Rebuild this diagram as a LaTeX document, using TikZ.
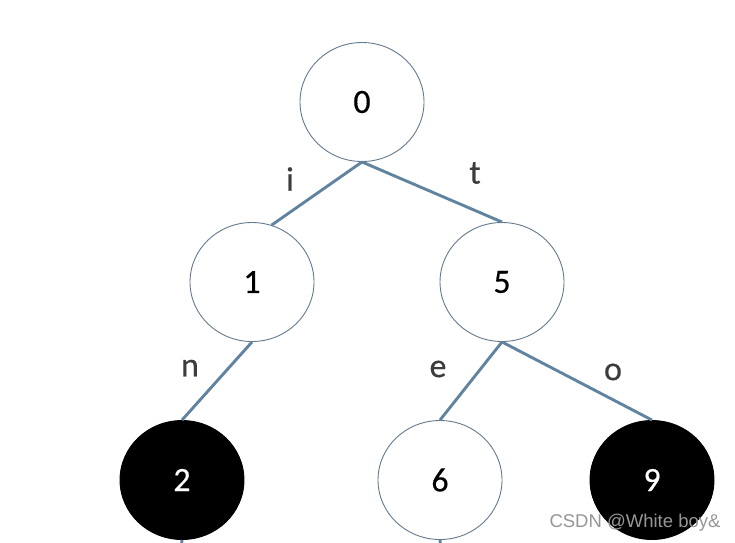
\documentclass[tikz,border=0pt]{standalone}
\usepackage{fontspec}
\setmainfont{Carlito}
\newfontfamily\nodefont[FakeBold=0.35]{Carlito}
\newfontfamily\wmfont{Liberation Sans}
\usetikzlibrary{shapes.geometric}
\definecolor{edgecol}{RGB}{96,132,160}
\definecolor{ringcol}{RGB}{100,122,142}
\definecolor{labcol}{RGB}{60,60,60}
\definecolor{wmcol}{RGB}{150,150,150}
\tikzset{
  trienode/.style={ellipse, draw=ringcol, line width=0.9pt, fill=white,
    minimum width=124pt, minimum height=119pt, inner sep=0pt,
    font=\nodefont\fontsize{34}{34}\selectfont, text=black},
  endnode/.style={trienode, fill=black, draw=black, text=white},
  edge/.style={draw=edgecol, line width=2.9pt},
  elabel/.style={font=\nodefont\fontsize{34}{34}\selectfont, text=labcol, inner sep=0pt},
}
\begin{document}
\begin{tikzpicture}[x=1pt,y=-1pt]
\useasboundingbox (0,0) rectangle (735,542);
\node[trienode] (n0) at (362,102) {0};
\node[trienode] (n1) at (252,282) {1};
\node[trienode] (n5) at (502,282) {5};
\node[endnode]  (n2) at (182,480) {2};
\node[trienode] (n6) at (440,480) {6};
\node[endnode]  (n9) at (652,480) {9};
\coordinate (s2) at (181,550);
\coordinate (s6) at (441,550);
\draw[edge] (n0.south) -- (n1.71);
\draw[edge] (n0.south) -- (n5.north);
\draw[edge] (n1.south) -- (n2.north);
\draw[edge] (n5.south) -- (n6.north);
\draw[edge] (n5.south) -- (n9.north);
\draw[edge] (n2.south) -- (s2);
\draw[edge] (n6.south) -- (s6);
\node[elabel] (li) at (290,179) {i};
\node[elabel] (lt) at (475,173) {t};
\node[elabel] (ln) at (190,368) {n};
\node[elabel] (le) at (438,369) {e};
\node[elabel] (lo) at (613,372) {o};
\node[font=\wmfont\fontsize{18.5}{18.5}\selectfont, text=wmcol, inner sep=0pt] (wm) at (635,523) {CSDN @White boy\&};
\end{tikzpicture}
\end{document}
